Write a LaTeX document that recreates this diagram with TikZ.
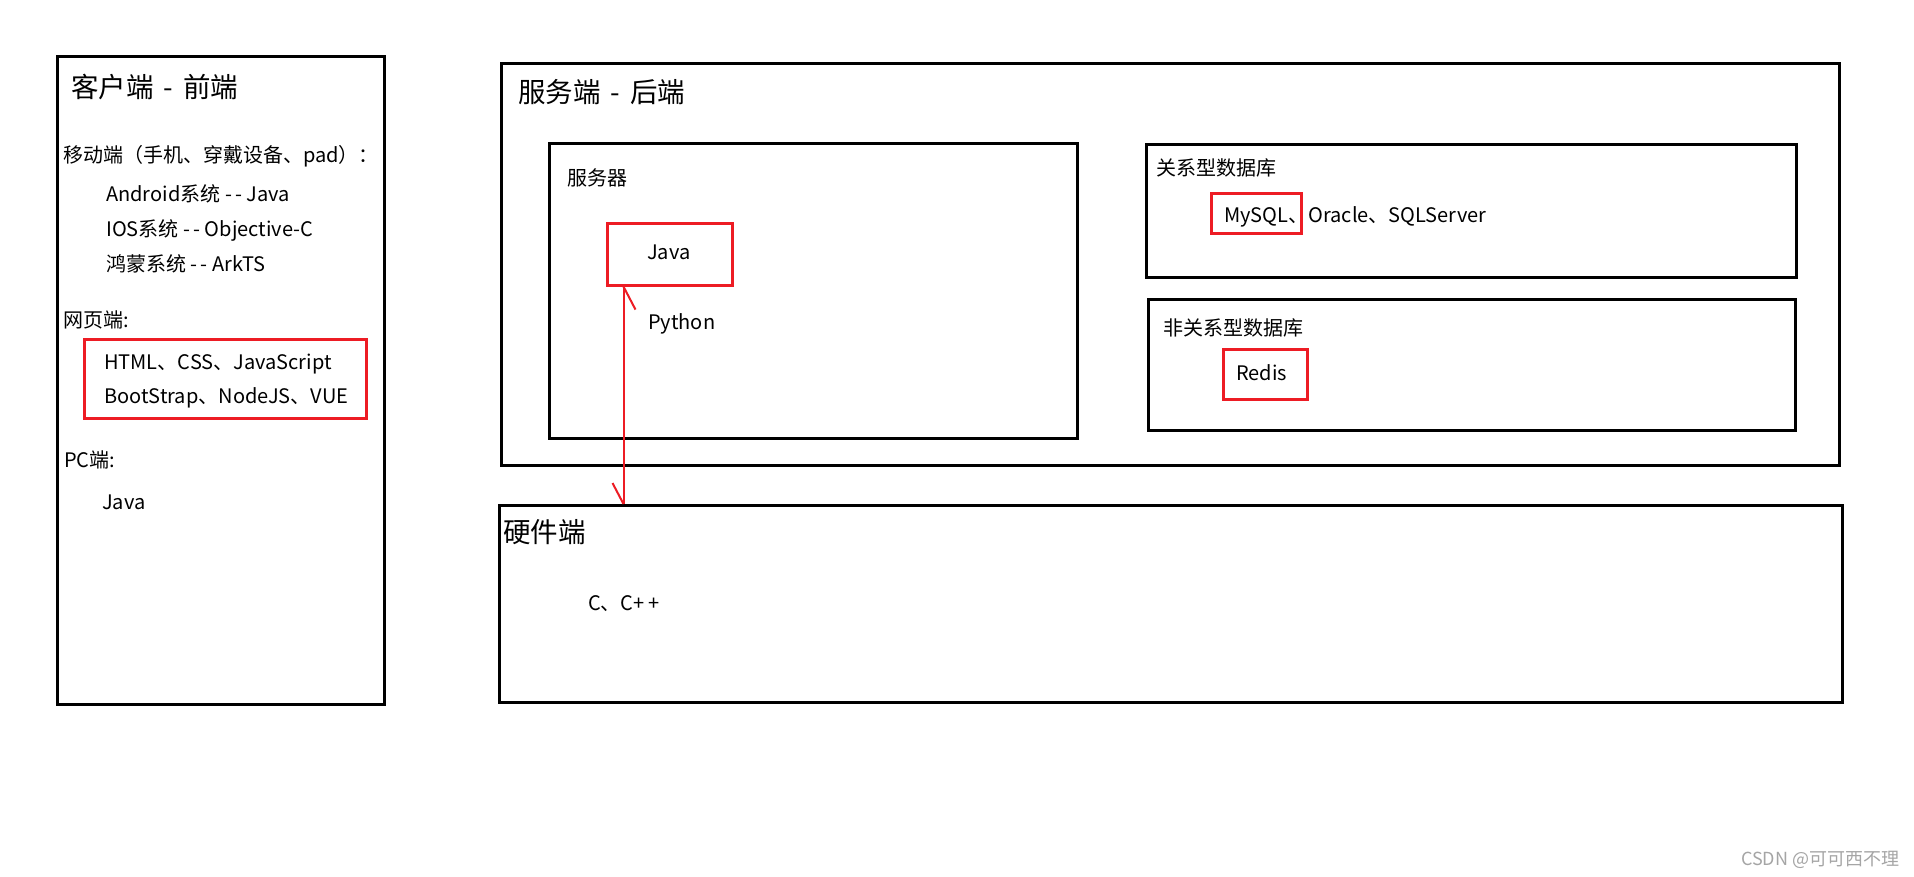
\documentclass[tikz,border=0pt]{standalone}
\usepackage{fontspec}
\setmainfont{Noto Sans CJK SC}[Ligatures=TeXOff]
\definecolor{pred}{RGB}{237,28,36}
\definecolor{wm}{RGB}{165,165,165}
\newcommand{\tdash}{\hspace{0.36em}-\hspace{0.36em}}
\tikzset{
  blackbox/.style={draw=black, line width=3pt, anchor=north west, inner sep=0pt},
  redbox/.style={draw=pred, line width=2.6pt, anchor=north west, inner sep=0pt},
  txt/.style={anchor=base west, inner sep=0pt, font=\fontsize{20}{24}\selectfont},
  ttl/.style={anchor=base west, inner sep=0pt, font=\fontsize{27.5}{32}\selectfont},
  redline/.style={draw=pred, line width=2pt},
}
\begin{document}
\begin{tikzpicture}[x=1pt,y=-1pt]
\useasboundingbox[fill=white] (0,0) rectangle (1914,876);
% client
\node[blackbox, minimum width=327pt, minimum height=648pt] (client) at (56,55) {};
\node[ttl] (ctitle) at (71,97) {客户端\tdash 前端};
\node[txt] (mobile) at (63,162) {移动端（手机、穿戴设备、pad）：};
\node[txt] (android) at (106,201) {Android系统 -\,- Java};
\node[txt] (ios) at (106,236) {IOS系统 -\,- Objective-C};
\node[txt] (hm) at (106,271) {鸿蒙系统 -\,- ArkTS};
\node[txt] (web) at (63,327) {网页端:};
\node[redbox, minimum width=282pt, minimum height=79pt] (webbox) at (83,338) {};
\node[txt] (html) at (104,369) {HTML、CSS、JavaScript};
\node[txt] (boot) at (104,403) {BootStrap、NodeJS、VUE};
\node[txt] (pc) at (64,467) {PC端:};
\node[txt] (pcjava) at (102,509) {Java};
% server
\node[blackbox, minimum width=1338pt, minimum height=402pt] (server) at (500,62) {};
\node[ttl] (stitle) at (518,102) {服务端\tdash 后端};
\node[blackbox, minimum width=528pt, minimum height=295pt] (srv) at (548,142) {};
\node[txt] (srvlbl) at (567,185) {服务器};
\node[redbox, minimum width=125pt, minimum height=62pt] (javabox) at (606,222) {};
\node[txt] (java) at (647,259) {Java};
\node[txt] (python) at (648,329) {Python};
\node[blackbox, minimum width=650pt, minimum height=133pt] (rdb) at (1145,143) {};
\node[txt] (rdblbl) at (1156,175) {关系型数据库};
\node[redbox, minimum width=90pt, minimum height=40pt] (mysqlbox) at (1210,192) {};
\node[txt] (mysql) at (1224,222) {MySQL、Oracle、SQLServer};
\node[blackbox, minimum width=647pt, minimum height=131pt] (nrdb) at (1147,298) {};
\node[txt] (nrdblbl) at (1163,335) {非关系型数据库};
\node[redbox, minimum width=84pt, minimum height=50pt] (redisbox) at (1222,348) {};
\node[txt] (redis) at (1236,380) {Redis};
% hardware
\node[blackbox, minimum width=1343pt, minimum height=197pt] (hw) at (498,504) {};
\node[ttl] (hwtitle) at (503,542) {硬件端};
\node[txt] (cpp) at (588,610) {C、C+\,+};
% arrow
\coordinate (atop) at ([xshift=17.5pt]javabox.south west);
\coordinate (abot) at (atop |- hw.north);
\draw[redline] (atop) -- (abot);
\draw[redline] (atop) -- ++(12,23);
\draw[redline] (abot) -- ++(-11,-21);
% watermark
\node[anchor=base west, inner sep=0pt, font=\fontsize{18}{22}\selectfont, text=wm] (wmk) at (1741,865) {CSDN @可可西不理};
\end{tikzpicture}
\end{document}
